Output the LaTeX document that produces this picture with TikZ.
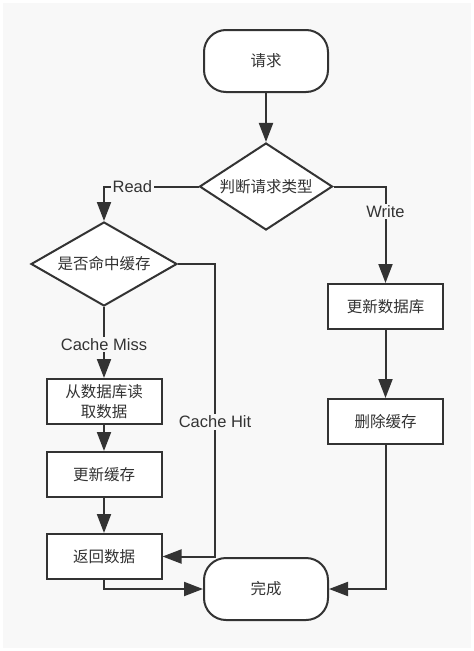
\documentclass[tikz,border=0pt]{standalone}
\usepackage{fontspec}
\setmainfont{Noto Sans CJK SC}
\newfontfamily\latinfont{Liberation Sans}
\usetikzlibrary{arrows.meta,positioning,shapes.geometric}
\definecolor{ink}{HTML}{333333}
\definecolor{paper}{HTML}{F8F8F8}

\begin{document}
\begin{tikzpicture}[x=1pt,y=-1pt,>={Triangle[length=19pt,width=14pt]},
  font=\fontsize{15.5}{20}\selectfont,text=ink,
  box/.style={draw=ink,line width=2pt,fill=white,align=center,inner sep=0pt},
  term/.style={box,rounded corners=22pt,minimum width=124pt,minimum height=62pt},
  proc/.style={box,minimum width=115pt,minimum height=45pt},
  decide/.style={box,diamond,aspect=1.53,minimum width=133pt,minimum height=87pt},
  lbl/.style={fill=paper,inner sep=1.5pt,font=\latinfont\fontsize{16.5}{19}\selectfont},
  arr/.style={->,draw=ink,line width=2pt}]

  % page and backdrop
  \useasboundingbox (0,0) rectangle (474,651);
  \fill[paper] (3,3) rectangle (471,648);

  % request and dispatch
  \node[term] (req) at (266,61) {请求};
  \node[decide,below=49pt of req] (judge) {判断请求类型};

  % read branch
  \node[decide,aspect=1.74,minimum width=146pt,minimum height=84pt] (hit) at (104,264) {是否命中缓存};
  \node[proc,below=71pt of hit] (load) {从数据库读\\取数据};
  \node[proc,below=26pt of load] (fill) {更新缓存};
  \node[proc,below=35pt of fill] (ret) {返回数据};

  % write branch
  \node[proc] (db) at (385.5,306.5) {更新数据库};
  \node[proc,below=68pt of db] (del) {删除缓存};

  % end
  \node[term] (done) at (266,589) {完成};

  \draw[arr] (req) -- (judge);
  \draw[arr] (judge.west) -| node[lbl,pos=0.35] {Read} (hit.north);
  \draw[arr] (judge.east) -| node[lbl,pos=0.63] {Write} (db.north);

  \draw[arr] (hit.south) -- node[lbl,pos=0.53] {Cache Miss} (load.north);
  \draw[arr] (hit.east) -- ++(37,0) |- node[lbl,pos=0.27] {Cache Hit} (ret.east);
  \foreach \a/\b in {load/fill,fill/ret,db/del} \draw[arr] (\a)--(\b);

  \draw[arr] (ret.south) |- (done.west);
  \draw[arr] (del.south) |- (done.east);

\end{tikzpicture}
\end{document}
